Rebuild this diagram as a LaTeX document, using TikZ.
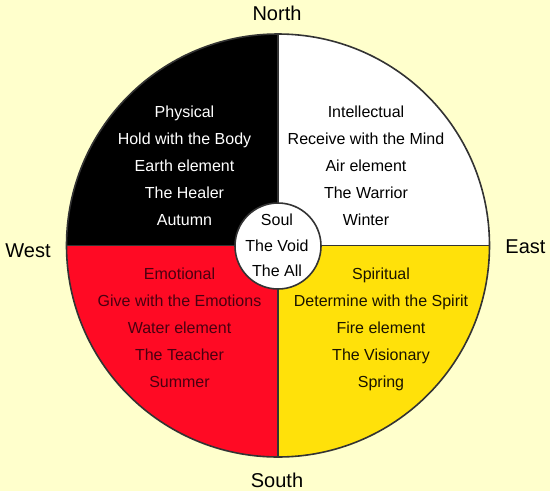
\documentclass[tikz,border=0pt]{standalone}
\usepackage{fontspec}
\setmainfont{Liberation Sans}
\definecolor{bgc}{HTML}{FFFFCC}
\definecolor{redq}{HTML}{FF0A24}
\definecolor{yelq}{HTML}{FFE10A}
\definecolor{edgec}{HTML}{333333}
\definecolor{redtxt}{HTML}{4A0010}
\definecolor{yeltxt}{HTML}{1A1400}
\tikzset{
  line/.style={draw=edgec, line width=1.6pt},
  qtext/.style={font=\fontsize{16}{18}\selectfont, anchor=base, inner sep=0pt},
  dirtext/.style={font=\fontsize{20}{22}\selectfont, anchor=base, inner sep=0pt, text=black},
}
\begin{document}
\begin{tikzpicture}[x=1pt,y=-1pt]
\fill[bgc] (0,0) rectangle (550,491);
\useasboundingbox (0,0) rectangle (550,491);
\coordinate (c) at (278,245.5);
% quadrants (y axis points down: angle 90 is down, 270 is up)
\fill[black] (c) -- ++(-211.5,0) arc[start angle=180,end angle=270,radius=211.5] -- cycle;
\fill[white] (c) -- ++(0,-211.5) arc[start angle=270,end angle=360,radius=211.5] -- cycle;
\fill[redq] (c) -- ++(-211.5,0) arc[start angle=180,end angle=90,radius=211.5] -- cycle;
\fill[yelq] (c) -- ++(211.5,0) arc[start angle=0,end angle=90,radius=211.5] -- cycle;
\draw[line] (c) ++(-211.5,0) -- ++(423,0);
\draw[line] (c) ++(0,-211.5) -- ++(0,423);
\draw[line] (c) circle[radius=211.5];
\node[circle, line, fill=white, minimum size=86pt, inner sep=0pt] (hub) at (278,246) {};
% center text
\node[qtext] (soul) at (277,225) {Soul};
\node[qtext] (void) at (277,251) {The Void};
\node[qtext] (all) at (277,276.5) {The All};
% NW
\foreach \t [count=\i] in {Physical,Hold with the Body,Earth element,The Healer,Autumn}
  \node[qtext, text=white] (nw\i) at (184.5,90+27*\i) {\t};
% NE
\foreach \t [count=\i] in {Intellectual,Receive with the Mind,Air element,The Warrior,Winter}
  \node[qtext, text=black] (ne\i) at (366,90+27*\i) {\t};
% SW
\foreach \t [count=\i] in {Emotional,Give with the Emotions,Water element,The Teacher,Summer}
  \node[qtext, text=redtxt] (sw\i) at (179.5,252+27*\i) {\t};
% SE
\foreach \t [count=\i] in {Spiritual,Determine with the Spirit,Fire element,The Visionary,Spring}
  \node[qtext, text=yeltxt] (se\i) at (381,252+27*\i) {\t};
% directions
\node[dirtext] (north) at (277,20) {North};
\node[dirtext] (south) at (277,487) {South};
\node[dirtext] (west) at (28,257) {West};
\node[dirtext] (east) at (525.5,253) {East};
\end{tikzpicture}
\end{document}
